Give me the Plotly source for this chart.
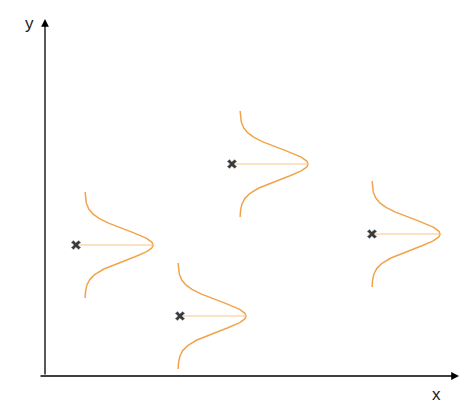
import numpy as np
import plotly.graph_objects as go

# data (pixel-space diagram)
point_x = [75, 179, 231, 371]
point_y = [244, 315, 163, 233]
curve_base_x = [84, 177, 239, 371]
curve_peak = 68
curve_half_span = 53
curve_sigma = 15

orange = "#f2a34a"
fig = go.Figure()
t = np.linspace(-curve_half_span, curve_half_span, 200)
for px, py, bx in zip(point_x, point_y, curve_base_x):
    xs = bx + curve_peak * np.exp(-t**2 / (2 * curve_sigma**2))
    fig.add_trace(go.Scatter(x=xs, y=py + t, mode="lines",
                             line=dict(color=orange, width=1.5), hoverinfo="skip"))
    fig.add_trace(go.Scatter(x=[px, bx + curve_peak], y=[py, py], mode="lines",
                             line=dict(color="#f7c58e", width=1), hoverinfo="skip"))
fig.add_trace(go.Scatter(x=point_x, y=point_y, mode="markers",
                         marker=dict(symbol="x", size=9, color="#3a3a3a",
                                     line=dict(color="#ffffff", width=1))))

fig.add_annotation(x=44, y=18, ax=44, ay=375, xref="x", yref="y", axref="x", ayref="y",
                   showarrow=True, arrowhead=2, arrowsize=1.2, arrowwidth=1.3, arrowcolor="#000", text="")
fig.add_annotation(x=458, y=375, ax=38, ay=375, xref="x", yref="y", axref="x", ayref="y",
                   showarrow=True, arrowhead=2, arrowsize=1.2, arrowwidth=1.3, arrowcolor="#000", text="")
fig.add_annotation(x=28, y=22, text="y", showarrow=False, font=dict(size=17, color="#222", family="Liberation Sans"))
fig.add_annotation(x=435, y=393, text="x", showarrow=False, font=dict(size=17, color="#222", family="Liberation Sans"))

fig.update_layout(width=474, height=418, margin=dict(l=0, r=0, t=0, b=0),
                  showlegend=False, paper_bgcolor="white", plot_bgcolor="white")
fig.update_xaxes(range=[7, 481], visible=False)
fig.update_yaxes(range=[425, 7], visible=False)
fig.write_html("out.html")
